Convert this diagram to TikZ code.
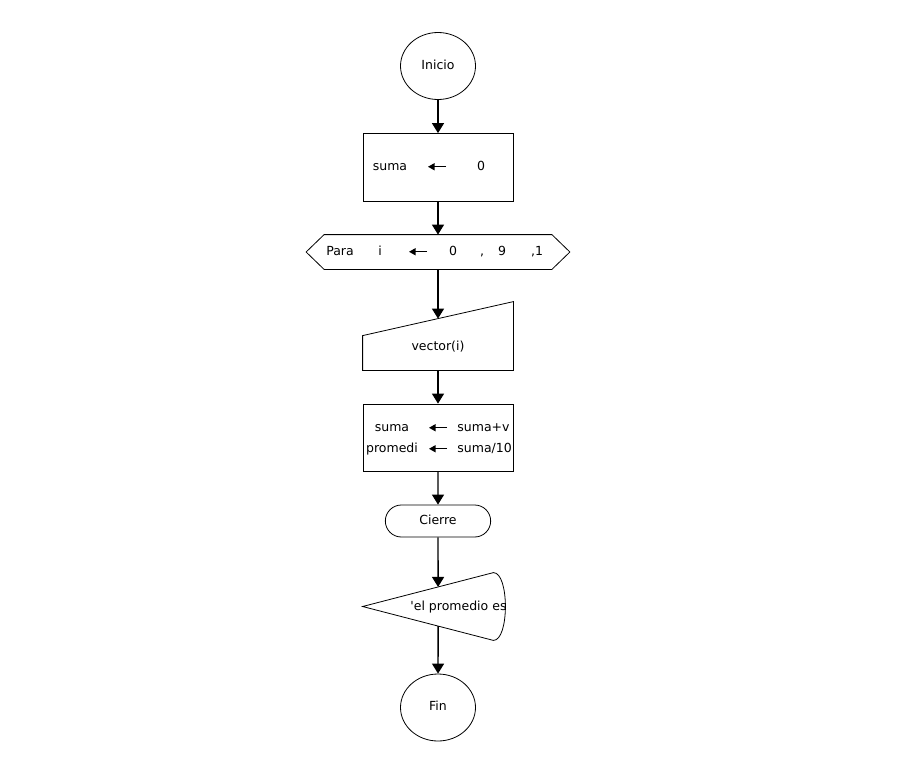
\documentclass[tikz,border=0pt]{standalone}
\usepackage{fontspec}
\setmainfont{DejaVu Sans}
\usetikzlibrary{shapes, arrows.meta, calc}

\newcommand{\asigna}{\tikz[baseline = -3.5pt] \draw [-{Triangle[length = 6.5pt, width = 7pt]},
    line width = 1.1pt] (0pt, 0pt) -- (-18pt, 0pt);}

\begin{document}
\begin{tikzpicture}[
    x = 1pt, y = -1pt,
    font = \fontsize{12.5}{14}\selectfont,
    line width = 0.8pt,
    >= {Triangle[length = 10pt, width = 12pt]},
    every node/.append style = {text height = 8.5pt, text depth = 2pt},
    flow/.style = {line width = 1.4pt},
    terminal/.style = {ellipse,
      draw,
      minimum width = 75pt,
      minimum height = 67pt},
    process/.style = {rectangle,
      draw,
      minimum width = 150pt,
      minimum height = 68pt},
    frame/.style = {rectangle, inner sep = 0pt}
    ]
    \fill [white] (0, 0) rectangle (910, 766);
    \useasboundingbox (0, 0) rectangle (910, 766);

    \node at (438, 66) [terminal, name = inicio] {Inicio};

    \node at (438, 167.5) [process, name = init] {};
    \node at (390, 167) [name = initvar] {suma};
    \node at (437, 167) [name = initarr] {\asigna};
    \node at (481, 167) [name = initval] {0};

    \node at (438, 252) [frame, minimum width = 263pt, minimum height = 34pt, name = para] {};
    \draw (para.west) -- ([xshift = 18pt]para.north west) -- ([xshift = -18pt]para.north east)
    -- (para.east) -- ([xshift = -18pt]para.south east) -- ([xshift = 18pt]para.south west) -- cycle;
    \node at (340, 252) [name = paralbl] {Para};
    \node at (380, 252) [name = paravar] {i};
    \node at (418, 252) [name = paraarr] {\asigna};
    \node at (453, 252) [name = paraini] {0};
    \node at (482, 252) [name = parasep] {,};
    \node at (502, 252) [name = parafin] {9};
    \node at (537, 252) [name = parapaso] {,1};

    \node at (438, 336) [frame, minimum width = 150pt, minimum height = 68pt, name = leer] {};
    \draw (leer.south west) -- (leer.south east) -- (leer.north east)
    -- ([yshift = -34pt]leer.north west) -- cycle;
    \node at (438, 347) [name = leertxt] {vector(i)};
    \coordinate (leertop) at ($(leer.north east)!0.5!([yshift = -34pt]leer.north west)$);

    \node at (438, 437.5) [process, minimum height = 67pt, name = calc] {};
    \begin{scope}
      \clip (calc.north west) rectangle (calc.south east);
      \node at (392, 428) [name = sumavar] {suma};
      \node at (438, 428) [name = sumaarr] {\asigna};
      \node at (457, 428) [anchor = west, inner sep = 0pt, name = sumaval] {suma+v};
      \node at (392, 449) [name = promvar] {promedi};
      \node at (438, 449) [name = promarr] {\asigna};
      \node at (457, 449) [anchor = west, inner sep = 0pt, name = promval] {suma/10};
    \end{scope}

    \node at (438, 521) [rounded rectangle, draw, minimum width = 112pt,
      minimum height = 32pt, name = cierre] {Cierre};

    \node at (434, 606.5) [frame, minimum width = 142pt, minimum height = 67pt, name = mostrar] {};
    \draw (mostrar.west) -- ([xshift = -12pt]mostrar.north east)
    .. controls ([xshift = 4pt]mostrar.north east) and ([xshift = 4pt]mostrar.south east)
    .. ([xshift = -12pt]mostrar.south east) -- cycle;
    \node at (410, 607) [anchor = west, inner sep = 0pt, name = mostrartxt] {\textquotesingle el promedio es};
    \coordinate (mostrartop) at ($(mostrar.west)!0.577!([xshift = -12pt]mostrar.north east)$);
    \coordinate (mostrarbot) at ($(mostrar.west)!0.577!([xshift = -12pt]mostrar.south east)$);

    \node at (438, 707.5) [terminal, name = fin] {Fin};

    \draw [flow, ->] (inicio) to (init);
    \draw [flow, ->] (init) to (para);
    \draw [flow, ->] (para) to (leertop);
    \draw [flow, ->] (leer) to (calc);
    \draw [flow, ->] (calc) to (cierre);
    \draw [flow, ->] (cierre) to (mostrartop);
    \draw [flow, ->] (mostrarbot) to (fin);

  \end{tikzpicture}
\end{document}
